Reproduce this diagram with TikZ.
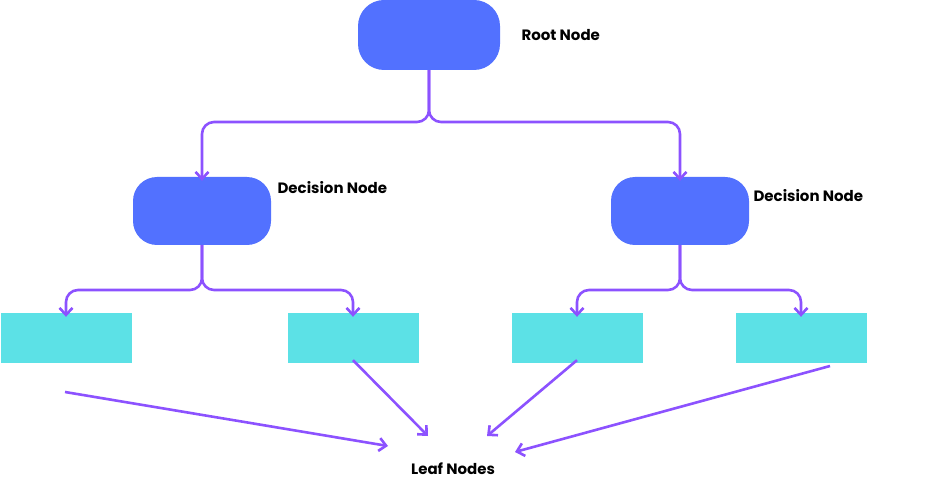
\documentclass[tikz,border=0pt]{standalone}
\usepackage{fontspec}
\setmainfont{Poppins}
\usetikzlibrary{arrows.meta}
\definecolor{nblue}{HTML}{5271FF}
\definecolor{ncyan}{HTML}{5CE1E6}
\definecolor{npurp}{HTML}{8C52FF}
\begin{document}
\begin{tikzpicture}[x=1pt,y=-1pt,
  dec/.style={fill=nblue,rounded corners=24pt,minimum width=138pt,minimum height=68pt,inner sep=0},
  leaf/.style={fill=ncyan,minimum width=131pt,minimum height=50pt,inner sep=0},
  lab/.style={font=\bfseries\fontsize{15}{18}\selectfont,anchor=west},
  con/.style={draw=npurp,line width=2.6pt,rounded corners=12pt,-{Straight Barb[length=7pt,width=13pt]}},
  arr/.style={draw=npurp,line width=2.6pt,-{Straight Barb[length=7pt,width=13pt]}}]
\useasboundingbox (0,0) rectangle (934,494);
\node[dec,minimum width=142pt,minimum height=70pt,rounded corners=26pt] (root) at (429,35) {};
\node[lab] at (518,35) {Root Node};
\node[dec] (dl) at (202,211) {};
\node[lab] at (274,188) {Decision Node};
\node[dec] (dr) at (680,211) {};
\node[lab] at (750,196) {Decision Node};
\node[leaf] (l1) at (66,338) {};
\node[leaf] (l2) at (353,338) {};
\node[leaf] (l3) at (577,338) {};
\node[leaf] (l4) at (801,338) {};
\node[font=\bfseries\fontsize{15}{18}\selectfont] (leafs) at (453,469) {Leaf Nodes};
\coordinate (a1) at (65,392);
\coordinate (a4) at (830,366);
\draw[con] (root.south) -- (429,122) -| ([yshift=-4pt]dl.north);
\draw[con] (root.south) -- (429,122) -| ([yshift=-4pt]dr.north);
\draw[con] (dl.south) -- (202,290) -| ([yshift=-4pt]l1.north);
\draw[con] (dl.south) -- (202,290) -| ([yshift=-4pt]l2.north);
\draw[con] (dr.south) -- (680,290) -| ([yshift=-4pt]l3.north);
\draw[con] (dr.south) -- (680,290) -| ([yshift=-4pt]l4.north);
\draw[arr] (a1) -- (388,446);
\draw[arr] ([yshift=3pt]l2.south) -- (428,436);
\draw[arr] ([yshift=3pt]l3.south) -- (487,436);
\draw[arr] (a4) -- (515,452);
\end{tikzpicture}
\end{document}
